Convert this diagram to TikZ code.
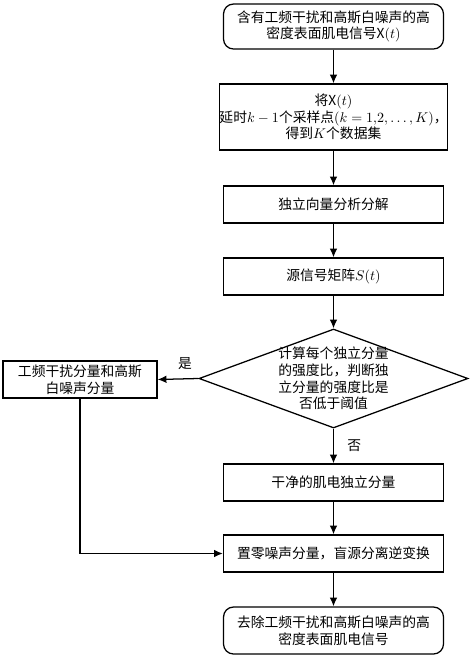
\documentclass[tikz,border=0pt]{standalone}
\usepackage{fontspec}
\newfontfamily\cjk{Noto Sans CJK SC}
\usetikzlibrary{arrows.meta,shapes.geometric}

\begin{document}
\begin{tikzpicture}[x=0.025cm, y=-0.025cm,
		every node/.style={font=\cjk\fontsize{9.8}{11.8}\selectfont, align=center},
		procbox/.style={draw, line width=0.9pt, inner sep=0pt, minimum width=220*0.025cm},
		endbox/.style={procbox, rounded corners=2.5mm},
		testbox/.style={draw, line width=0.9pt, diamond, aspect=2.7, inner sep=-5pt, minimum width=269*0.025cm, minimum height=99*0.025cm},
		arr/.style={line width=0.9pt, -{Latex[length=2.2mm, width=1.9mm]}}]
			%%%%% START %%%%%
			
			\useasboundingbox (0, 0) rectangle (474, 659);
			
			\node[endbox, minimum height=45*0.025cm] (signal) at (333.5, 26.5) {含有工频干扰和高斯白噪声的高\\密度表面肌电信号X$(t)$};
			\node[procbox, minimum height=66*0.025cm] (delay) at (333.5, 117) {将X$(t)$\\延时$k-1$个采样点$(k=1{,}2,\dots,K)$，\\得到$K$个数据集};
			\node[procbox, minimum height=37*0.025cm] (ica) at (333.5, 204.5) {独立向量分析分解};
			\node[procbox, minimum height=37*0.025cm] (source) at (333.5, 276.5) {源信号矩阵$S(t)$};
			
			\node[testbox] (judge) at (333.5, 378.5) {计算每个独立分量\\的强度比，判断独\\立分量的强度比是\\否低于阈值};
			\node[procbox, minimum width=154*0.025cm, minimum height=37*0.025cm] (noise) at (80, 379.5) {工频干扰分量和高斯\\白噪声分量};
			
			\node[procbox, minimum height=37*0.025cm] (clean) at (333.5, 482.5) {干净的肌电独立分量};
			\node[procbox, minimum height=37*0.025cm] (inverse) at (333.5, 553.5) {置零噪声分量，盲源分离逆变换};
			\node[endbox, minimum height=47*0.025cm] (result) at (333.5, 630.5) {去除工频干扰和高斯白噪声的高\\密度表面肌电信号};
			
			\draw[arr] (signal) -- (delay);
			\draw[arr] (delay) -- (ica);
			\draw[arr] (ica) -- (source);
			\draw[arr] (source) -- (judge);
			\draw[arr] (judge.west) -- node[pos=0.33, above=3pt] {是} (noise.east);
			\draw[arr] (judge.south) -- node[right=6pt] {否} (clean.north);
			\draw[arr] (clean) -- (inverse);
			\draw[arr] (noise.south) |- (inverse.west);
			\draw[arr] (inverse) -- (result);
			
			%%%%% END %%%%%
		\end{tikzpicture}
\end{document}
